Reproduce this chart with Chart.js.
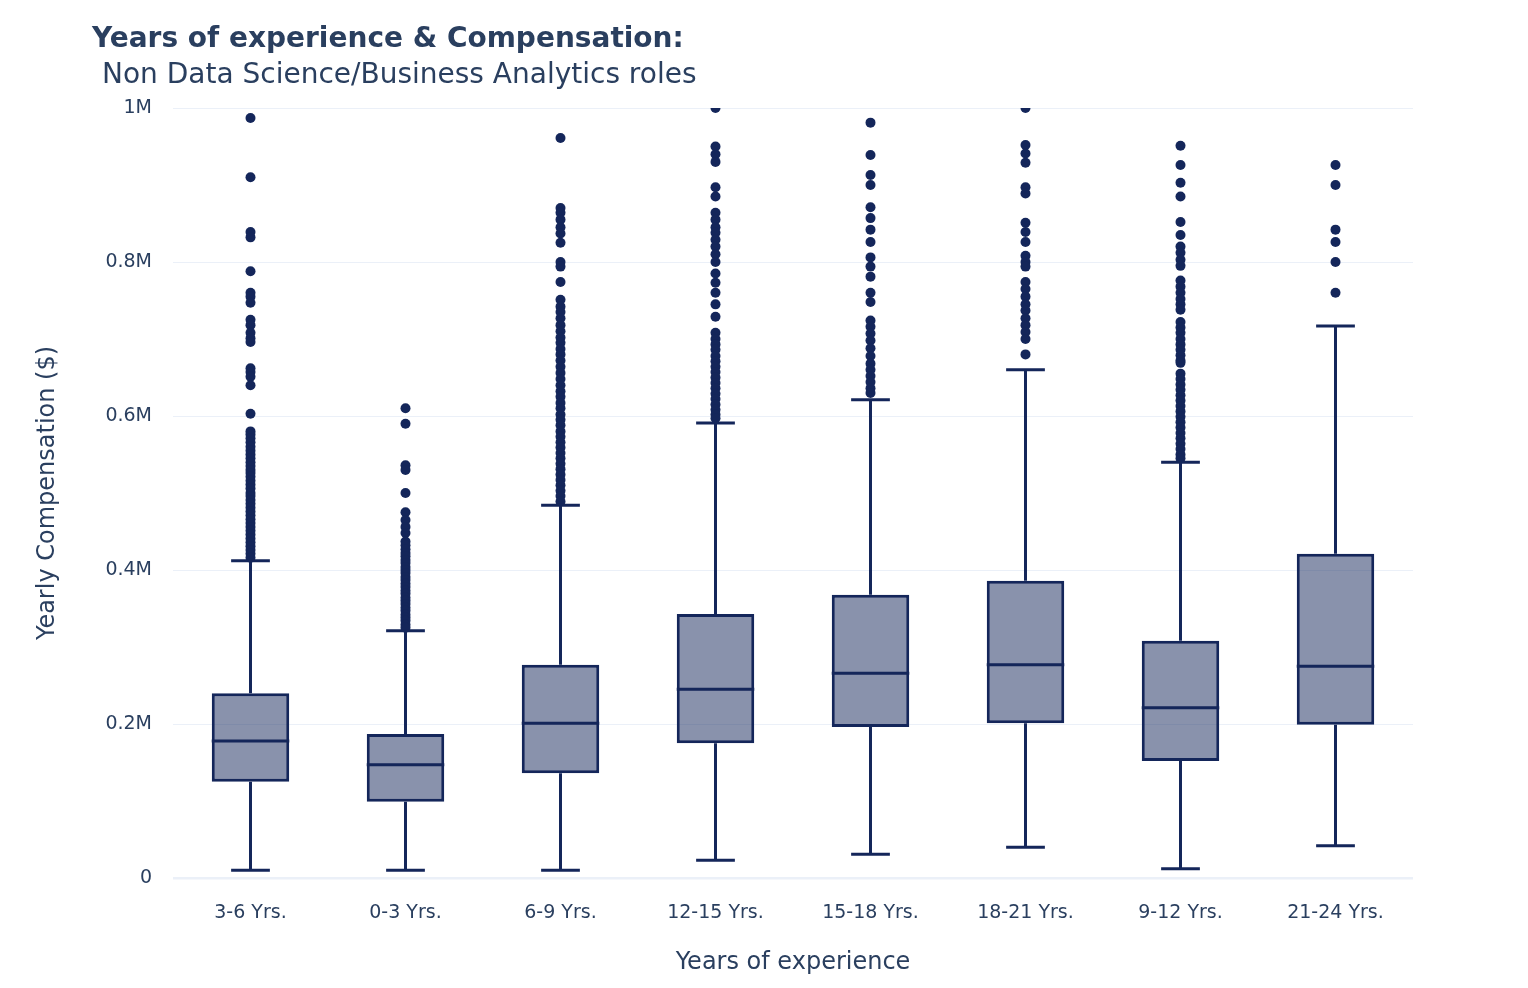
<!DOCTYPE html>
<html>
<head>
<meta charset="utf-8">
<script src="https://cdn.jsdelivr.net/npm/chart.js@4.4.1/dist/chart.umd.min.js"></script>
<style>
  body { margin: 0; background: #fff; font-family: "DejaVu Sans", sans-serif; }
  #wrap { position: relative; width: 1528px; height: 988px; }
  #myChart { position: absolute; left: 0; top: 0; }
  .title { position: absolute; color: #2a3f5f; white-space: nowrap; line-height: 30px; }
  #t1 { left: 92px; top: 23px; font-size: 28px; font-weight: bold; }
  #t2 { left: 102px; top: 59px; font-size: 28px; }
</style>
</head>
<body>
<div id="wrap">
  <canvas id="myChart" width="1528" height="988"></canvas>
  <div class="title" id="t1">Years of experience &amp; Compensation:</div>
  <div class="title" id="t2">Non Data Science/Business Analytics roles</div>
</div>
<script>
// Categorias na ordem do gráfico
const categories = ['3-6 Yrs.', '0-3 Yrs.', '6-9 Yrs.', '12-15 Yrs.', '15-18 Yrs.', '18-21 Yrs.', '9-12 Yrs.', '21-24 Yrs.'];

// Estatísticas das caixas (dólares)
const lowerFence = [10e3, 10e3, 10e3, 23e3, 31e3, 40e3, 12e3, 42e3];
const q1 = [125e3, 99e3, 136e3, 175e3, 196e3, 201e3, 152e3, 199e3];
const median = [178e3, 147e3, 201e3, 245e3, 266e3, 277e3, 221e3, 275e3];
const q3 = [240e3, 187e3, 277e3, 343e3, 368e3, 386e3, 308e3, 421e3];
const upperFence = [412e3, 321e3, 484e3, 591e3, 621e3, 660e3, 540e3, 717e3];

// Outliers por categoria (milhares de dólares)
const out36 = [987, 910, 839, 832, 788, 760, 755, 747, 725, 718, 708, 701, 696, 662, 657, 651, 640, 603, 580, 576, 571, 566, 560, 555, 550, 545, 540, 535, 530, 526, 521, 516, 511, 506, 500, 496, 491, 486, 481, 476, 471, 466, 461, 456, 451, 446, 441, 436, 431, 426, 421, 416];
const out03 = [610, 590, 536, 530, 500, 475, 465, 456, 448, 437, 432, 427, 422, 418, 413, 409, 404, 400, 396, 391, 387, 382, 378, 373, 369, 364, 360, 356, 351, 347, 342, 338, 334, 329, 325];
const out69 = [961, 870, 864, 855, 845, 837, 825, 800, 794, 774, 751, 742, 735, 727, 718, 710, 702, 695, 687, 680, 672, 664, 656, 648, 640, 632, 625, 617, 610, 602, 595, 588, 580, 573, 566, 559, 552, 545, 538, 531, 524, 517, 510, 503, 496, 489];
const out1215 = [1000, 950, 940, 930, 897, 885, 864, 855, 845, 838, 829, 820, 810, 800, 785, 773, 760, 745, 729, 708, 700, 693, 686, 678, 671, 664, 657, 650, 643, 636, 629, 622, 615, 608, 602, 597];
const out1518 = [981, 939, 913, 900, 871, 857, 842, 826, 806, 794, 781, 760, 748, 724, 716, 707, 698, 688, 678, 668, 660, 652, 644, 636, 630];
const out1821 = [1000, 952, 941, 929, 897, 889, 851, 839, 826, 808, 800, 794, 774, 765, 755, 745, 737, 727, 718, 709, 700, 680];
const out912 = [951, 926, 903, 885, 852, 835, 820, 812, 803, 795, 776, 768, 760, 752, 745, 738, 722, 715, 708, 700, 693, 686, 679, 672, 669, 655, 648, 641, 634, 627, 620, 613, 606, 599, 592, 585, 578, 571, 564, 557, 550, 545];
const out2124 = [926, 900, 842, 826, 800, 760];

const outliersByCat = [out36, out03, out69, out1215, out1518, out1821, out912, out2124];
const yTicks = [0, 200e3, 400e3, 600e3, 800e3, 1000e3];
const yTickLabels = ['0', '0.2M', '0.4M', '0.6M', '0.8M', '1M'];

const navy = 'rgb(20, 38, 90)';
const fill = 'rgba(20, 38, 90, 0.5)';
const textColor = '#2a3f5f';
const fontFamily = 'DejaVu Sans';

// Monta pontos de outliers
const outlierPoints = [];
outliersByCat.forEach((list, i) => {
    list.forEach(v => outlierPoints.push({ x: categories[i], y: v * 1000 }));
});

// Whiskers, tampas e mediana desenhados com as escalas do Chart.js
const boxExtras = {
    id: 'boxExtras',
    afterDatasetsDraw(chart) {
        const ctx = chart.ctx;
        const xs = chart.scales.x;
        const ys = chart.scales.y;
        const meta = chart.getDatasetMeta(0);
        ctx.save();
        ctx.strokeStyle = navy;
        ctx.lineWidth = 3;
        categories.forEach((c, i) => {
            const x = xs.getPixelForValue(i);
            const half = meta.data[i].width / 2;
            const cap = half / 2;
            ctx.beginPath();
            ctx.moveTo(x, ys.getPixelForValue(q3[i]));
            ctx.lineTo(x, ys.getPixelForValue(upperFence[i]));
            ctx.moveTo(x - cap, ys.getPixelForValue(upperFence[i]));
            ctx.lineTo(x + cap, ys.getPixelForValue(upperFence[i]));
            ctx.moveTo(x, ys.getPixelForValue(q1[i]));
            ctx.lineTo(x, ys.getPixelForValue(lowerFence[i]));
            ctx.moveTo(x - cap, ys.getPixelForValue(lowerFence[i]));
            ctx.lineTo(x + cap, ys.getPixelForValue(lowerFence[i]));
            ctx.moveTo(x - half, ys.getPixelForValue(median[i]));
            ctx.lineTo(x + half, ys.getPixelForValue(median[i]));
            ctx.stroke();
        });
        ctx.restore();
    }
};

const ctx = document.getElementById('myChart').getContext('2d');
new Chart(ctx, {
    type: 'bar',
    data: {
        labels: categories,
        datasets: [{
            label: 'box',
            data: categories.map((c, i) => [q1[i], q3[i]]),
            backgroundColor: fill,
            borderColor: navy,
            borderWidth: 3,
            borderSkipped: false,
            categoryPercentage: 1,
            barPercentage: 0.5,
            order: 2
        }, {
            type: 'line',
            label: 'outliers',
            data: outlierPoints,
            showLine: false,
            pointRadius: 5,
            pointBorderWidth: 0,
            pointBackgroundColor: navy,
            pointBorderColor: navy,
            clip: 0,
            order: 1
        }]
    },
    options: {
        responsive: false,
        animation: false,
        layout: { padding: { top: 108, right: 115, left: 0, bottom: 0 } },
        plugins: {
            legend: { display: false },
            tooltip: { enabled: false }
        },
        scales: {
            x: {
                grid: { display: false, drawTicks: false },
                border: { display: false },
                ticks: { color: textColor, font: { family: fontFamily, size: 19 }, padding: 24 },
                title: {
                    display: true, text: 'Years of experience', color: textColor,
                    font: { family: fontFamily, size: 24 }, padding: { top: 11, bottom: 11 }
                },
                afterFit(scale) { scale.height = 110; }
            },
            y: {
                min: 0,
                max: 1000e3,
                afterBuildTicks(scale) { scale.ticks = yTicks.map(v => ({ value: v })); },
                grid: {
                    color: '#ebf0f8',
                    lineWidth: c => (c.tick && c.tick.value === 0 ? 2.5 : 1),
                    drawTicks: false
                },
                border: { display: false },
                ticks: {
                    color: textColor, font: { family: fontFamily, size: 19 }, padding: 21,
                    callback: (v) => yTickLabels[yTicks.indexOf(v)]
                },
                title: {
                    display: true, text: 'Yearly Compensation ($)', color: textColor,
                    font: { family: fontFamily, size: 24 }, padding: { top: 33, bottom: 0 }
                },
                afterFit(scale) { scale.width = 173; }
            }
        }
    },
    plugins: [boxExtras]
});
</script>
</body>
</html>
